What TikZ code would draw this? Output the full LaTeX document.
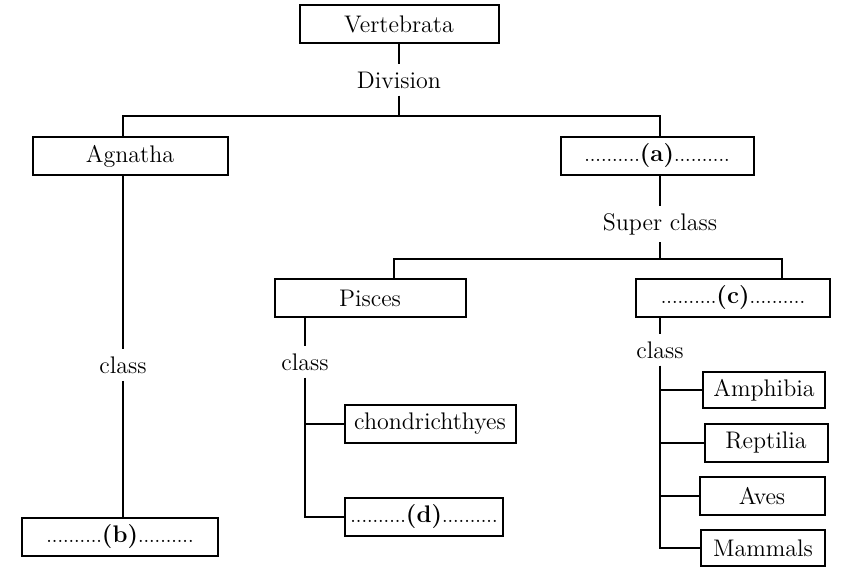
\documentclass[tikz,border=0pt]{standalone}
\usepackage{tikz}
\usetikzlibrary{positioning,calc}

\newcommand{\blankfill}[1]{{\fontsize{10}{12}\selectfont ..........}\textbf{(#1)}{\fontsize{10}{12}\selectfont ..........}}

\begin{document}
\begin{tikzpicture}[
    x=0.5pt, y=-0.5pt,
    box/.style={rectangle, draw, line width=1pt, minimum height=19pt,
                inner sep=0pt, align=center, font=\fontsize{12}{14}\selectfont},
    lbl/.style={inner sep=3.5pt, font=\fontsize{12}{14}\selectfont},
    conn/.style={line width=0.8pt},
  ]
    \useasboundingbox (0,0) rectangle (853,576);

    % Top level
    \node[box, minimum width=99.5pt] (vert) at (399,24) {Vertebrata};
    \node[lbl] (div) at (399,80) {Division};
    \coordinate (j1) at (399,116);

    % Division
    \node[box, minimum width=97.5pt] (agna) at (130,156) {Agnatha};
    \node[box, minimum width=96.5pt] (a) at (657,156) {\blankfill{a}};

    % Agnatha side
    \node[lbl] (cls1) at (123,365) {class};
    \node[box, minimum width=98pt] (b) at (120,537) {\blankfill{b}};

    % Super class
    \node[lbl] (sup) at (660,224) {Super class};
    \coordinate (j2) at (660,259);
    \node[box, minimum width=95.5pt] (pis) at (370,298) {Pisces};
    \node[box, minimum width=97pt] (c) at (733,298) {\blankfill{c}};

    % Pisces classes
    \node[lbl] (cls2) at (305,362) {class};
    \node[box, minimum width=85.5pt] (chon) at (430,424) {chondrichthyes};
    \node[box, minimum width=79pt] (d) at (424,517) {\blankfill{d}};

    % Tetrapod classes
    \node[lbl] (cls3) at (660,350) {class};
    \node[box, minimum width=61pt, minimum height=18pt] (amph) at (764,390) {Amphibia};
    \node[box, minimum width=61.5pt] (rept) at (766,443) {Reptilia};
    \node[box, minimum width=62.5pt] (aves) at (762,496) {Aves};
    \node[box, minimum width=62pt, minimum height=18pt] (mamm) at (763,548) {Mammals};

    % Connectors
    \draw[conn] (vert) -- (div);
    \draw[conn] (div) -- (j1);
    \draw[conn] (agna.north -| cls1) |- (j1) -| (a.north -| sup);
    \draw[conn] (agna.south -| cls1) -- (cls1);
    \draw[conn] (cls1) -- (b.north -| cls1);
    \draw[conn] (a.south -| sup) -- (sup);
    \draw[conn] (sup) -- (j2);
    \draw[conn] ([xshift=12pt]pis.north) |- (j2) -| ([xshift=24.5pt]c.north);
    \draw[conn] (pis.south -| cls2) -- (cls2);
    \draw[conn] (cls2) |- (chon);
    \draw[conn] (cls2) |- (d);
    \draw[conn] (c.south -| cls3) -- (cls3);
    \draw[conn] (cls3) |- (amph);
    \draw[conn] (cls3) |- (rept);
    \draw[conn] (cls3) |- (aves);
    \draw[conn] (cls3) |- (mamm);
  \end{tikzpicture}
\end{document}
